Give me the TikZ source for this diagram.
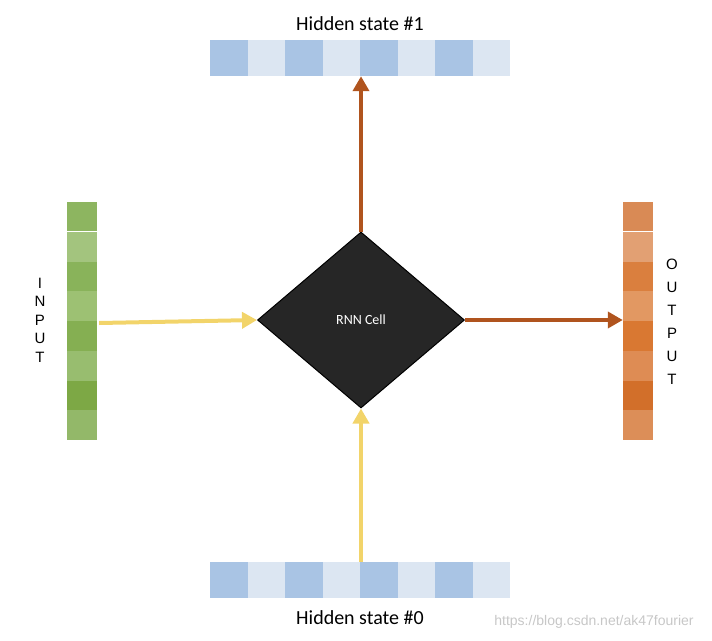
\documentclass[tikz,border=0pt]{standalone}
\usepackage{fontspec}
\setmainfont{Carlito}
\newfontfamily\lsans{Liberation Sans}
\usetikzlibrary{shapes.geometric,arrows.meta}
\definecolor{hdark}{HTML}{A9C4E4}
\definecolor{hlight}{HTML}{DCE6F2}
\definecolor{yel}{HTML}{F2D46A}
\definecolor{brn}{HTML}{B0541E}
\definecolor{cell}{HTML}{262626}
\tikzset{
  conn/.style={line width=4pt,-{Triangle[length=15pt,width=16pt]}},
  bar/.style={inner sep=0pt,draw=none},
}
\begin{document}
\begin{tikzpicture}[x=1pt,y=-1pt]
\useasboundingbox (0,0) rectangle (712,640);
% hidden state bars
\foreach \i in {0,...,7}{
  \pgfmathsetmacro{\xa}{210+37.5*\i}
  \ifodd\i \def\c{hlight}\else\def\c{hdark}\fi
  \fill[\c] (\xa,40) rectangle ++(37.5,36);
  \fill[\c] (\xa,562) rectangle ++(37.5,36);
}
\node[bar,minimum width=300pt,minimum height=36pt] (h1) at (360,58) {};
\node[bar,minimum width=300pt,minimum height=36pt] (h0) at (360,580) {};
\node (t1) at (360,24) {\fontsize{20}{24}\selectfont Hidden state \#1};
\node (t0) at (360,618) {\fontsize{20}{24}\selectfont Hidden state \#0};
% input bar
\foreach \c [count=\i from 0] in {8DB560,A3C47E,89B35A,9DC173,85AF52,98BD6F,7DA845,93B869}{
  \definecolor{tmp}{HTML}{\c}
  \fill[tmp] (67,202+29.75*\i) rectangle ++(30,29.75);
}
\draw[white,line width=1.5pt] (67,231.5) -- (97,231.5);
\node[bar,minimum width=30pt,minimum height=238pt] (in) at (82,321) {};
% output bar
\foreach \c [count=\i from 0] in {D98A55,E2A073,DA7F3E,E29862,D97832,DE8C54,D26F2A,DC8E58}{
  \definecolor{tmp}{HTML}{\c}
  \fill[tmp] (623,202+29.75*\i) rectangle ++(30,29.75);
}
\draw[white,line width=1.5pt] (623,231.5) -- (653,231.5);
\node[bar,minimum width=30pt,minimum height=238pt] (out) at (638,321) {};
% labels
\node[font=\lsans\fontsize{15}{18.5}\selectfont,align=center] (il) at (40,320) {I\\N\\P\\U\\T};
\node[font=\lsans\fontsize{15}{23}\selectfont,align=center] (ol) at (672,322) {O\\U\\T\\P\\U\\T};
% RNN cell
\node[diamond,fill=cell,draw=black,line width=1pt,minimum width=207pt,minimum height=176pt,inner sep=0pt,aspect=1.18] (rnn) at (361,320) {};
\node[text=white,font=\fontsize{14}{16}\selectfont] (rl) at (rnn) {RNN Cell};
% connectors
\draw[conn,yel] (in.east) ++(2,2) coordinate (ia) -- (rnn.west);
\draw[conn,brn] (rnn.east) -- (rnn.east -| out.west);
\draw[conn,brn] (rnn.north) -- (h1.south -| rnn.north);
\draw[conn,yel] (h0.north -| rnn.south) -- (rnn.south);
\node[text=black!22,font=\lsans\fontsize{14}{16}\selectfont] (wm) at (594,622) {https://blog.csdn.net/ak47fourier};
\end{tikzpicture}
\end{document}
